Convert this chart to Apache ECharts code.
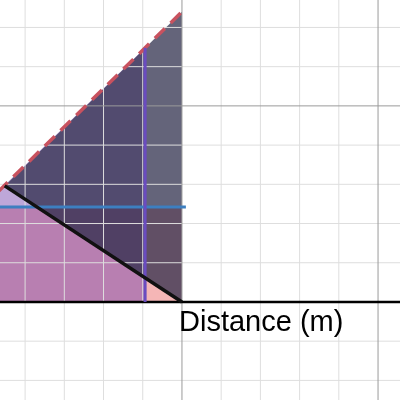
<!DOCTYPE html>
<html><head><meta charset="utf-8">
<script src="https://cdn.jsdelivr.net/npm/echarts@6/dist/echarts.min.js"></script>
<style>html,body{margin:0;padding:0;background:#fff}#c{width:400px;height:400px}</style>
</head><body><div id="c"></div>
<script>
const redRect = [[-4.7,0],[0,0],[0,2.42],[-4.7,2.42]];
const blueRegion = [[-4.7,0],[-0.94,0],[-0.94,6.48],[-4.7,2.8]];
const darkTriangle = [[-4.52,2.96],[0,7.4],[0,0]];
const dashedLine = [[-4.7,2.8],[0,7.4]];
const blackLine = [[-4.52,2.96],[0,0]];
const blueLine = [[-4.7,2.42],[0.1,2.42]];
const purpleLine = [[-0.94,0],[-0.94,6.48]];
const minorX = [-4,-3,-2,-1,1,2,3,4];
const majorX = [-5,0,5];
const minorY = [-2,-1,1,2,3,4,6,7];
const majorY = [0,5];
const axisLabel = 'Distance (m)';
const X0=-4.64, X1=5.56, Y0=-2.5, Y1=7.7;

function poly(pts, color){
  return {type:'custom', coordinateSystem:'cartesian2d', data:[[0,0]], silent:true, clip:true,
    renderItem:(p,api)=>({type:'polygon', shape:{points:pts.map(q=>api.coord(q))}, style:{fill:color}})};
}
function line(pts,color,w,type,z){
  return {type:'line', data:pts, symbol:'none', silent:true, clip:true, connectNulls:false,
    lineStyle:{color:color,width:w,type:type||'solid'}, z:z||5};
}
function gridSeries(xs, ys, color){
  const d=[];
  xs.forEach(x=>{d.push([x,Y0],[x,Y1],null);});
  ys.forEach(y=>{d.push([X0,y],[X1,y],null);});
  return line(d,color,1,'solid',0);
}
const chart = echarts.init(document.getElementById('c'));
chart.setOption({
  animation:false,
  grid:{left:0, right:0, top:0, bottom:0},
  xAxis:{type:'value', min:X0, max:X1, axisLabel:{show:false}, axisTick:{show:false},
    axisLine:{show:false}, splitLine:{show:false}},
  yAxis:{type:'value', min:Y0, max:Y1, axisLabel:{show:false}, axisTick:{show:false},
    axisLine:{show:false}, splitLine:{show:false}},
  graphic:[{type:'text', left:179, top:308, style:{text:axisLabel, font:'29px "Liberation Sans", Arial, sans-serif', fill:'#000'}, z:10}],
  series:[
    gridSeries(minorX, minorY, '#dedede'),
    gridSeries(majorX, majorY, '#9a9a9a'),
    poly(redRect,'rgba(235,110,110,0.5)'),
    poly(blueRegion,'rgba(110,60,170,0.45)'),
    poly(darkTriangle,'rgba(40,40,70,0.72)'),
    line([[X0,0],[X1,0]],'#000',2.5),
    line(dashedLine,'#c8525f',3.5,[14,8]),
    line(blueLine,'#3d7fc0',3),
    line(purpleLine,'#6a4cc0',3),
    line(blackLine,'#111',3.5)
  ]
});
</script></body></html>
